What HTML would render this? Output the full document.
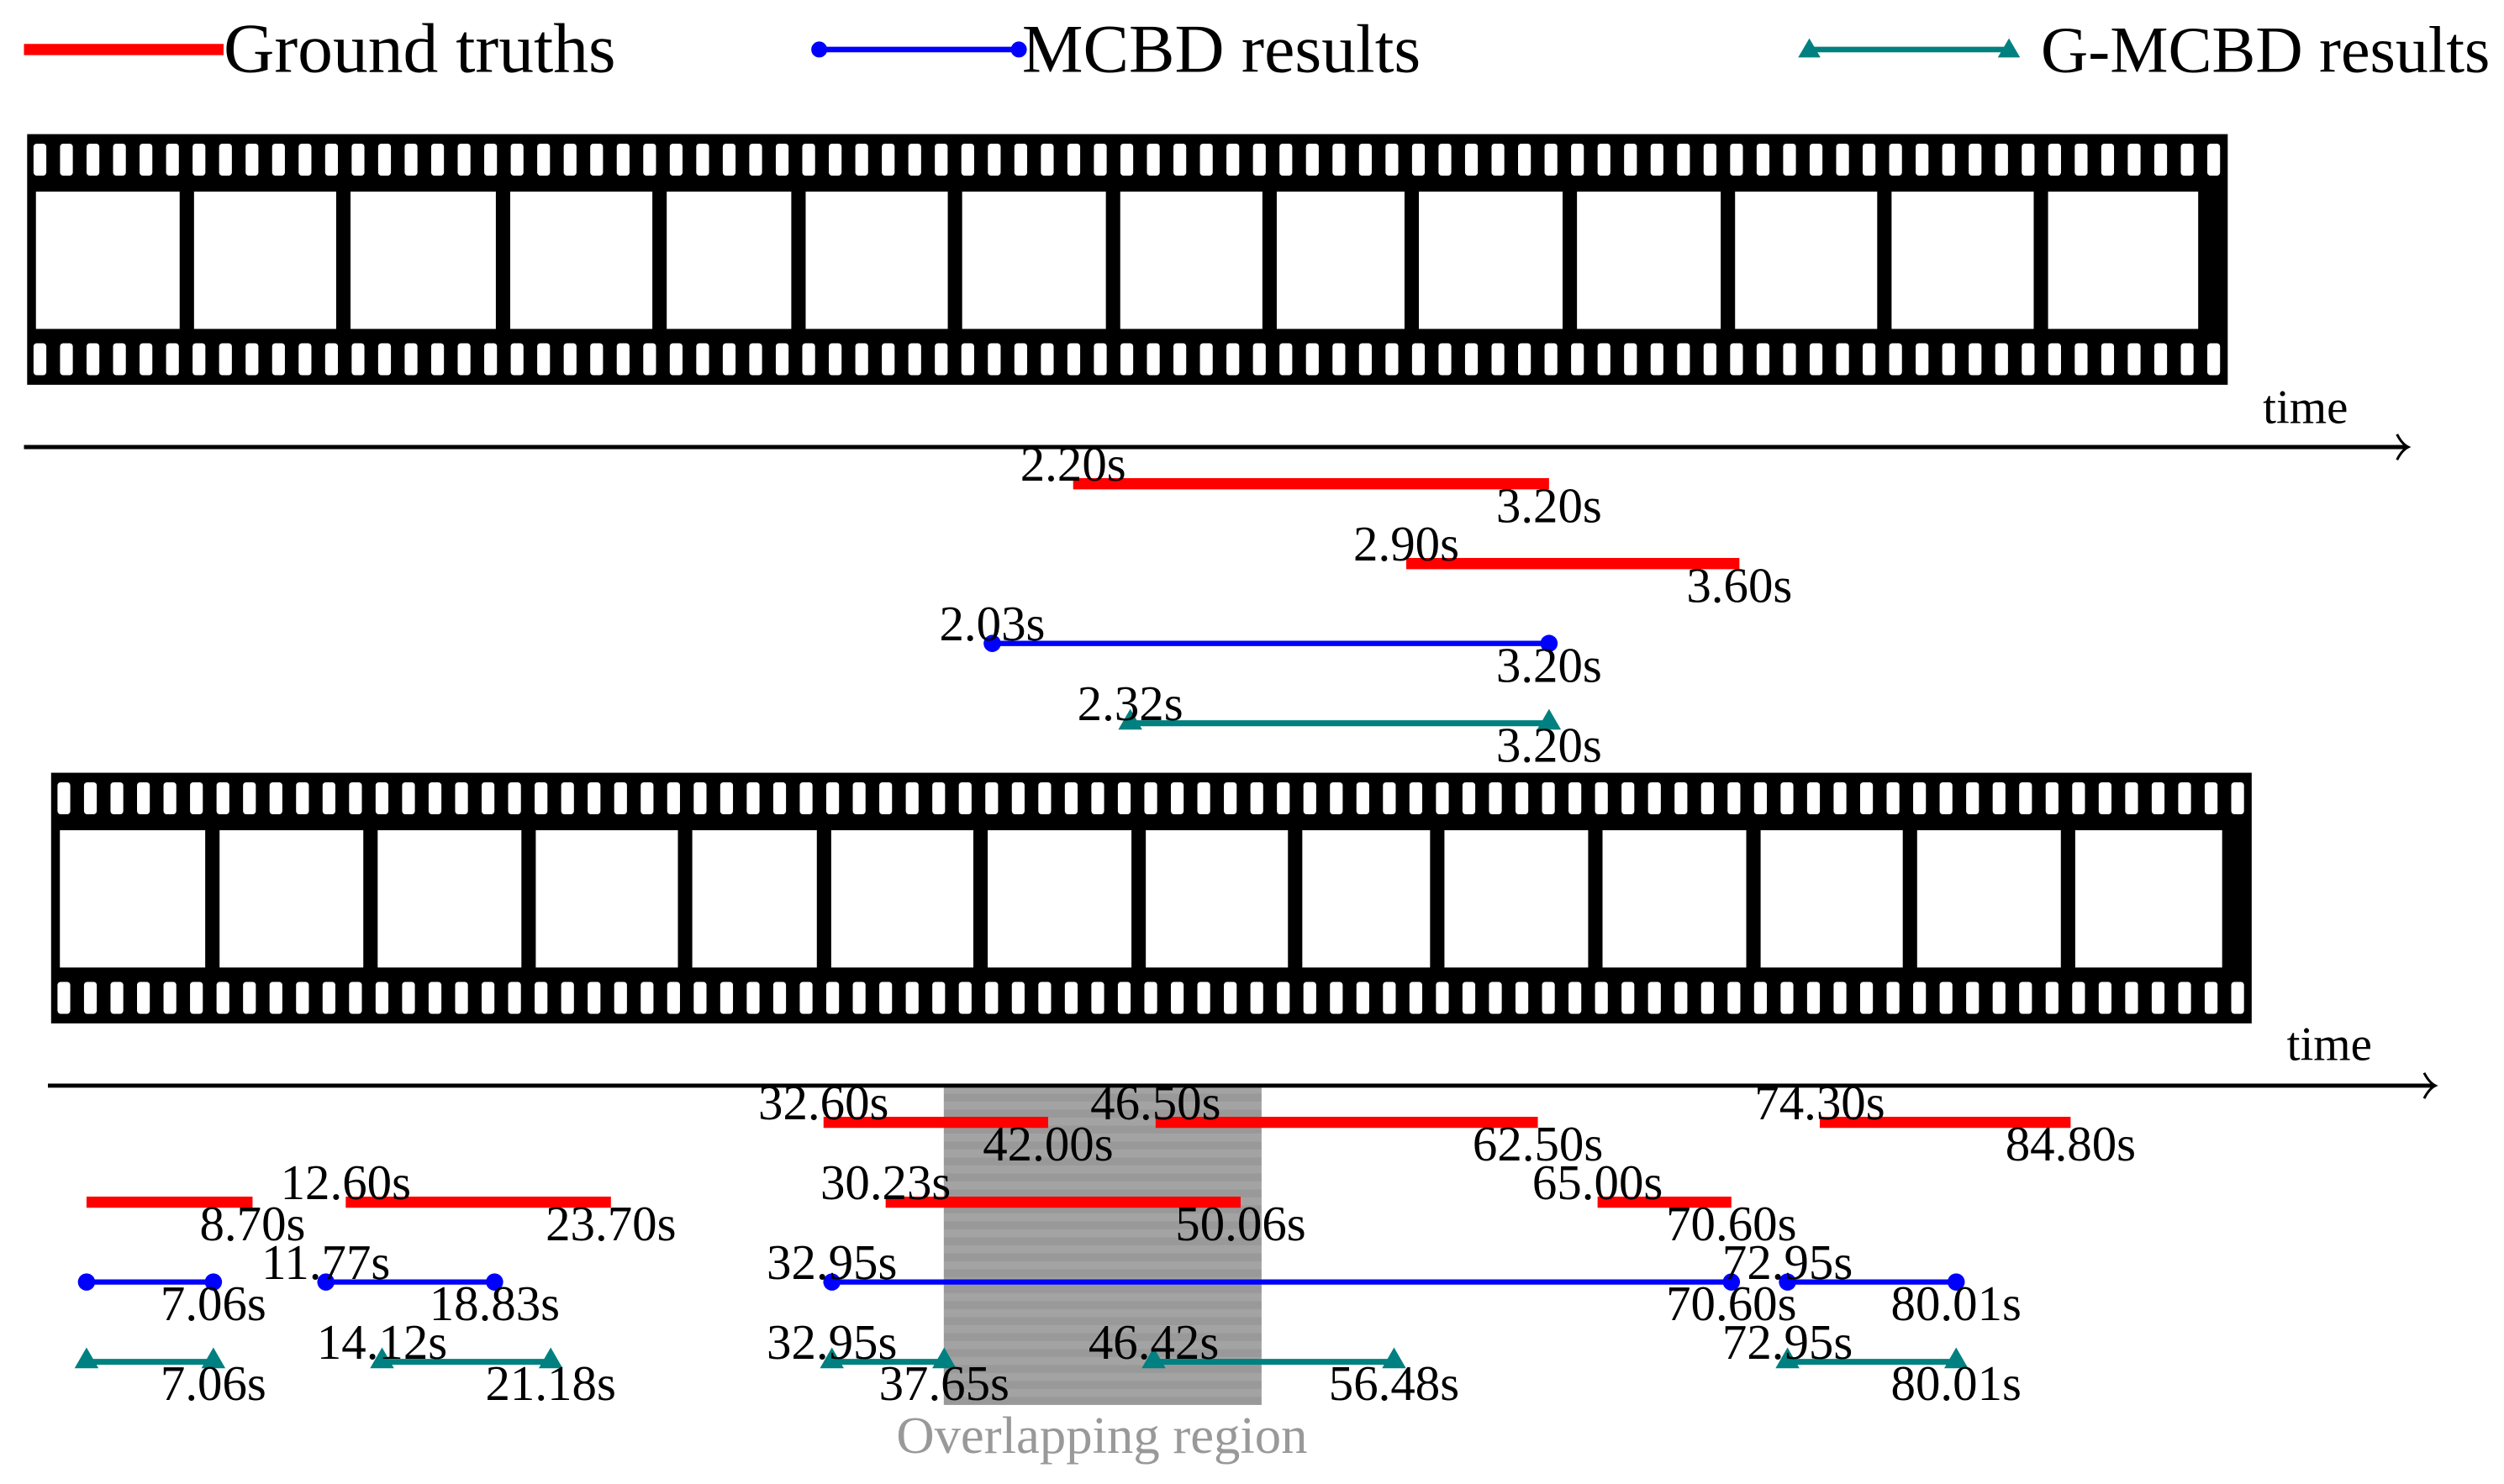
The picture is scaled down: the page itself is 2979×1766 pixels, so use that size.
<!DOCTYPE html>
<html><head><meta charset="utf-8"><style>
html,body{margin:0;padding:0;background:#fff;}
svg{display:block;}
text{font-family:"Liberation Serif",serif;fill:#000;}
</style></head><body>
<svg id="fig" xmlns="http://www.w3.org/2000/svg" width="2979" height="1766" viewBox="0 0 1568 929.5">
<defs>
<pattern id="stripes" width="10" height="10" patternUnits="userSpaceOnUse">
<rect width="10" height="10" fill="#a3a3a3"/><rect y="5" width="10" height="5" fill="#999"/>
</pattern>
</defs>
<g id="legend">
<g>
<line x1="15" y1="31" x2="140" y2="31" stroke="#f00" stroke-width="7"/>
<text x="140" y="45" font-size="44">Ground truths</text>
</g>
<g>
<line x1="513" y1="31" x2="638" y2="31" stroke="#00f" stroke-width="3.5"/>
<circle cx="513" cy="31" r="5" fill="#00f"/>
<circle cx="638" cy="31" r="5" fill="#00f"/>
<text x="640" y="45" font-size="43">MCBD results</text>
</g>
<g>
<line x1="1133" y1="31" x2="1258" y2="31" stroke="#008080" stroke-width="3.5"/>
<polygon points="1133,24 1140,36 1126,36" fill="#008080"/>
<polygon points="1258,24 1265,36 1251,36" fill="#008080"/>
<text x="1278" y="45" font-size="41">G-MCBD results</text>
</g>
</g>
<rect x="591" y="680" width="199" height="200" fill="url(#stripes)"/>
<text x="690" y="910" font-size="33" fill="#999" style="fill:#999" text-anchor="middle">Overlapping region</text>
<g id="films"></g>
<g id="axes"></g>
<g id="marks"></g>
</svg>
<script>
// ---- data ----
const topSeries = ["gt", "gt", "mcbd", "gmcbd"];
const topStarts = [2.20, 2.90, 2.03, 2.32];
const topEnds = [3.20, 3.60, 3.20, 3.20];
const topStartLabels = ["2.20s", "2.90s", "2.03s", "2.32s"];
const topEndLabels = ["3.20s", "3.60s", "3.20s", "3.20s"];
const topRows = [0, 1, 2, 3];

const botSeries = ["gt","gt","gt","gt","gt","gt","gt","mcbd","mcbd","mcbd","mcbd","gmcbd","gmcbd","gmcbd","gmcbd","gmcbd"];
const botRows = [0,0,0,1,1,1,1,2,2,2,2,3,3,3,3,3];
const botStarts = [32.60,46.50,74.30,1.75,12.60,35.20,65.00,1.75,11.77,32.95,72.95,1.75,14.12,32.95,46.42,72.95];
const botEnds = [42.00,62.50,84.80,8.70,23.70,50.06,70.60,7.06,18.83,70.60,80.01,7.06,21.18,37.65,56.48,80.01];
const botStartLabels = ["32.60s","46.50s","74.30s","","12.60s","30.23s","65.00s","","11.77s","32.95s","72.95s","","14.12s","32.95s","46.42s","72.95s"];
const botEndLabels = ["42.00s","62.50s","84.80s","8.70s","23.70s","50.06s","70.60s","7.06s","18.83s","70.60s","80.01s","7.06s","21.18s","37.65s","56.48s","80.01s"];

// ---- scales ----
const xTop = t => 16.4 + 298 * t;
const yTop = r => 303 + 50 * r;
const xBot = t => 28 + 14.96 * t;
const yBot = r => 703 + 50 * r;

const NS = "http://www.w3.org/2000/svg";
function mk(tag, attrs, parent) {
  const e = document.createElementNS(NS, tag);
  for (const k in attrs) e.setAttribute(k, attrs[k]);
  parent.appendChild(e);
  return e;
}

// film strips
const films = document.getElementById("films");
function film(x0, x1, y0, dividers, name) {
  const g = mk("g", {}, films);
  
  
  const bg = mk("rect", {x: x0, y: y0, width: x1 - x0, height: 157, fill: "#000"}, g);
  
  
  for (let x = x0 + 4; x + 8 < x1 - 2; x += 16.6) {
    for (const yy of [y0 + 6, y0 + 131]) {
      const h = mk("rect", {x: x, y: yy, width: 8, height: 20, rx: 2, fill: "#fff"}, g);
      
      
    }
  }
  for (let i = 0; i < dividers.length - 1; i++) {
    const l = dividers[i] + 4.5, r = dividers[i + 1] - 4.5;
    const f = mk("rect", {x: l, y: y0 + 36, width: r - l, height: 86, fill: "#fff"}, g);
    
    
  }
}
film(17, 1395, 84, [18, 117, 215, 315, 413, 500, 598, 697, 795, 884, 983, 1082, 1180, 1278, 1381], "film-strip-top");
film(32, 1410, 484, [33, 133, 232, 331, 429, 516, 614, 713, 811, 900, 999, 1098, 1196, 1295, 1396], "film-strip-bottom");

// axes
const axes = document.getElementById("axes");
function axis(x0, x1, y, tx, ty, name) {
  const g = mk("g", {}, axes);
  
  
  const l = mk("line", {x1: x0, y1: y, x2: x1, y2: y, stroke: "#000", "stroke-width": 2.6}, g);
  
  
  const a = mk("path", {d: `M${x1-6},${y-8} Q${x1-3},${y-2} ${x1+1},${y} Q${x1-3},${y+2} ${x1-6},${y+8}`, stroke: "#000", "stroke-width": 1.6, fill: "none"}, g);
  
  
  const t = mk("text", {x: tx, y: ty, "font-size": 30}, g);
  t.textContent = "time";
  
  
}
axis(15, 1507, 280, 1417, 265, "time-axis-top");
axis(30, 1524, 680, 1432, 664, "time-axis-bottom");

// marks
const marks = document.getElementById("marks");
const colors = {gt: "#f00", mcbd: "#00f", gmcbd: "#008080"};
const widths = {gt: 7, mcbd: 3.3, gmcbd: 3.7};
function marker(kind, x, y, g) {
  if (kind === "mcbd") {
    const c = mk("circle", {cx: x, cy: y, r: 5.4, fill: colors.mcbd}, g);
    
    
  } else if (kind === "gmcbd") {
    const p = mk("polygon", {points: `${x},${y-9} ${x+7.5},${y+4} ${x-7.5},${y+4}`, fill: colors.gmcbd}, g);
    
    
  }
}
function segment(kind, xs, xe, y, sl, el, name) {
  const g = mk("g", {}, marks);
  
  
  const l = mk("line", {x1: xs, y1: y, x2: xe, y2: y, stroke: colors[kind], "stroke-width": widths[kind]}, g);
  
  
  marker(kind, xs, y, g);
  marker(kind, xe, y, g);
  if (sl) {
    const t = mk("text", {x: xs, y: y - 2, "font-size": 31, "text-anchor": "middle"}, g);
    t.textContent = sl;
    
    
  }
  if (el) {
    const t = mk("text", {x: xe, y: y + 24, "font-size": 31, "text-anchor": "middle"}, g);
    t.textContent = el;
    
    
  }
}
for (let i = 0; i < topStarts.length; i++) {
  segment(topSeries[i], xTop(topStarts[i]), xTop(topEnds[i]), yTop(topRows[i]), topStartLabels[i], topEndLabels[i], "top-" + topSeries[i] + "-segment-" + i);
}
for (let i = 0; i < botStarts.length; i++) {
  segment(botSeries[i], xBot(botStarts[i]), xBot(botEnds[i]), yBot(botRows[i]), botStartLabels[i], botEndLabels[i], "bottom-" + botSeries[i] + "-segment-" + i);
}
</script>
</body></html>
